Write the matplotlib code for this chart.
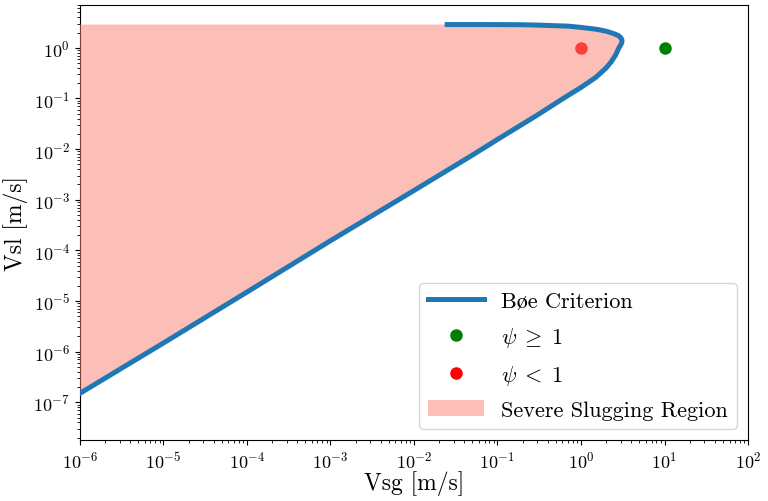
import matplotlib as mpl
mpl.use('Agg')
import matplotlib.pyplot as plt

plt.rcParams['font.family'] = ['cmr10', 'STIXGeneral', 'DejaVu Serif']
plt.rcParams['mathtext.fontset'] = 'cm'
plt.rcParams['axes.formatter.use_mathtext'] = True
plt.rcParams['axes.unicode_minus'] = False

# Boe criterion curve, lower branch then back along the upper one
vsg = [1e-6, 1e-5, 1e-4, 1e-3, 1e-2, 0.05, 0.1, 0.3, 0.6, 1.0, 1.5, 2.0, 2.3, 2.6, 2.8,
       2.95, 3.05, 3.1, 3.08, 3.0, 2.8, 2.44, 2.0, 1.54, 1.0, 0.7, 0.3, 0.186, 0.08, 0.025]
vsl = [1.5e-7, 1.48e-6, 1.5e-5, 1.55e-4, 1.52e-3, 7.6e-3, 0.0155, 0.047, 0.098, 0.165, 0.26, 0.4, 0.53, 0.72, 0.95,
       1.1, 1.22, 1.32, 1.45, 1.58, 1.75, 1.92, 2.13, 2.32, 2.53, 2.68, 2.81, 2.86, 2.88, 2.88]

# test points
good_vsg = [10.0]
good_vsl = [1.0]
bad_vsg = [1.0]
bad_vsl = [1.0]

fig = plt.figure(figsize=(7.68, 5.02), dpi=100)
ax = fig.add_axes([0.104, 0.1215, 0.870, 0.8665])

line, = ax.plot(vsg, vsl, color='#1f77b4', lw=3.6, label='Bøe Criterion', zorder=4)
g, = ax.plot(good_vsg, good_vsl, 'o', color='green', ms=8, label=r'$\psi\;\geq\;1$', zorder=2)
r, = ax.plot(bad_vsg, bad_vsl, 'o', color='red', ms=8, label=r'$\psi\;<\;1$', zorder=2)
# slugging region: left of the curve, up to the left axis
fill = ax.fill(vsg + [vsg[0]], vsl + [vsl[-1]], color='salmon', alpha=0.5, lw=0,
               label='Severe Slugging Region', zorder=3)

ax.set_xscale('log')
ax.set_yscale('log')
ax.set_xlim(1e-6, 1e2)
ax.set_ylim(1.8e-8, 7)
ax.tick_params(labelsize=13)
ax.set_xlabel('Vsg [m/s]', fontsize=17, labelpad=0)
ax.set_ylabel('Vsl [m/s]', fontsize=17)

ax.legend(handles=[line, g, r, fill[0]], loc='lower right', fontsize=16,
          handlelength=2.5, labelspacing=0.62)

fig.savefig('out.png', dpi=100)
